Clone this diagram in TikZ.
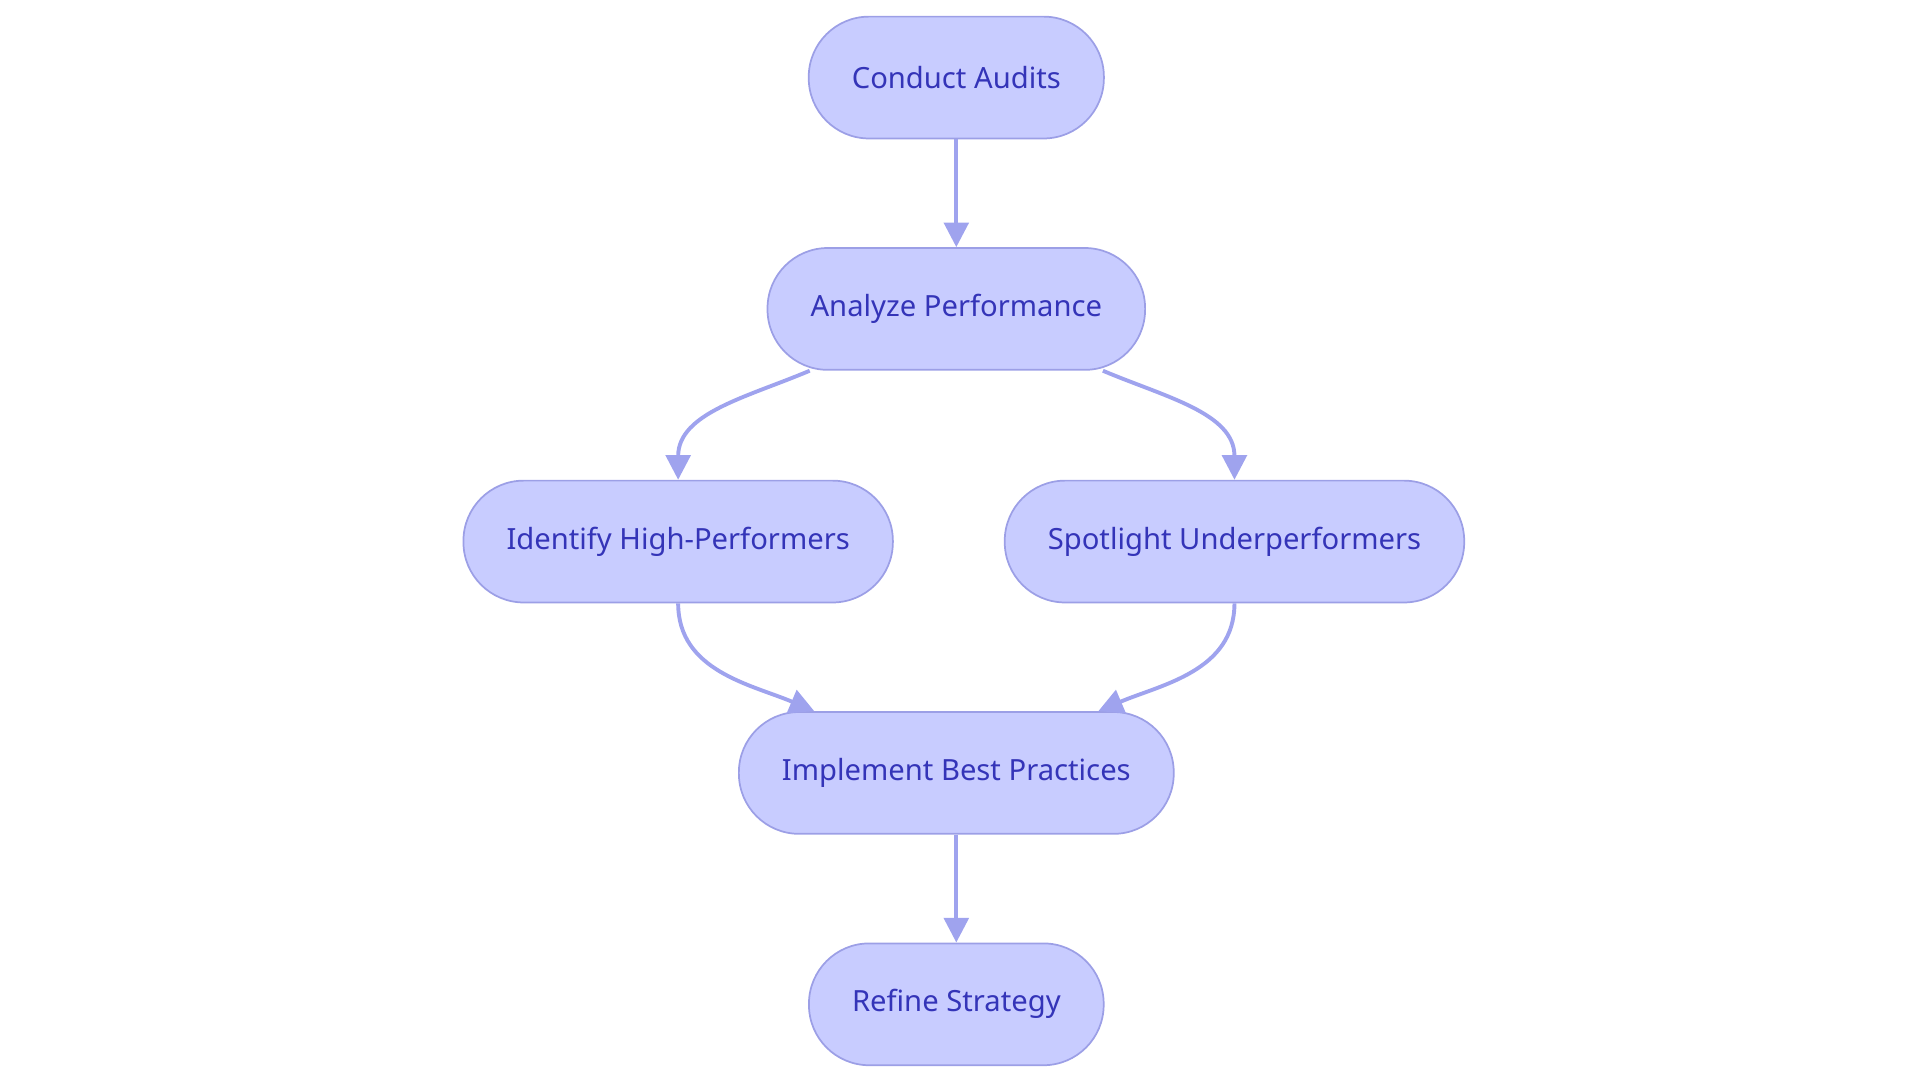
\documentclass[tikz,border=0pt]{standalone}
\usepackage{fontspec}
\setmainfont{Noto Sans}
\usetikzlibrary{arrows.meta, positioning}
\definecolor{boxfill}{HTML}{C8CCFF}
\definecolor{boxline}{HTML}{9C9FE6}
\definecolor{boxtext}{HTML}{3434B8}
\definecolor{linkcol}{HTML}{9FA3EE}
\tikzset{
    stage/.style={draw=boxline, fill=boxfill, text=boxtext, line width=0.8pt,
        rounded corners=0.98cm, minimum height=1.98cm, inner xsep=0.7cm,
        font=\fontsize{13.5}{16}\selectfont},
    link/.style={draw=linkcol, line width=1.8pt, -{Triangle[length=0.4cm, width=0.4cm]}}
}
\begin{document}
\begin{tikzpicture}
    \useasboundingbox (0,0) rectangle (31.2,-17.6);

    % Draw the stages
    \node[stage] (aud) at (15.54,-1.26) {Conduct Audits};
    \node[stage] (ana) at (15.54,-5.02) {Analyze Performance};
    \node[stage] (idf) at (11.02,-8.8) {Identify High-Performers};
    \node[stage] (spt) at (20.06,-8.8) {Spotlight Underperformers};
    \node[stage] (imp) at (15.54,-12.56) {Implement Best Practices};
    \node[stage] (ref) at (15.54,-16.32) {Refine Strategy};

    % Draw the links
    \draw[link] (aud) -- (ana);
    \draw[link] ([xshift=0.7cm]ana.south west) to[out=203,in=90] (idf.north);
    \draw[link] ([xshift=-0.7cm]ana.south east) to[out=-23,in=90] (spt.north);
    \draw[link] (idf.south) to[out=-90,in=157] ([xshift=1.24cm]imp.north west);
    \draw[link] (spt.south) to[out=-90,in=23] ([xshift=-1.24cm]imp.north east);
    \draw[link] (imp) -- (ref);
\end{tikzpicture}
\end{document}
